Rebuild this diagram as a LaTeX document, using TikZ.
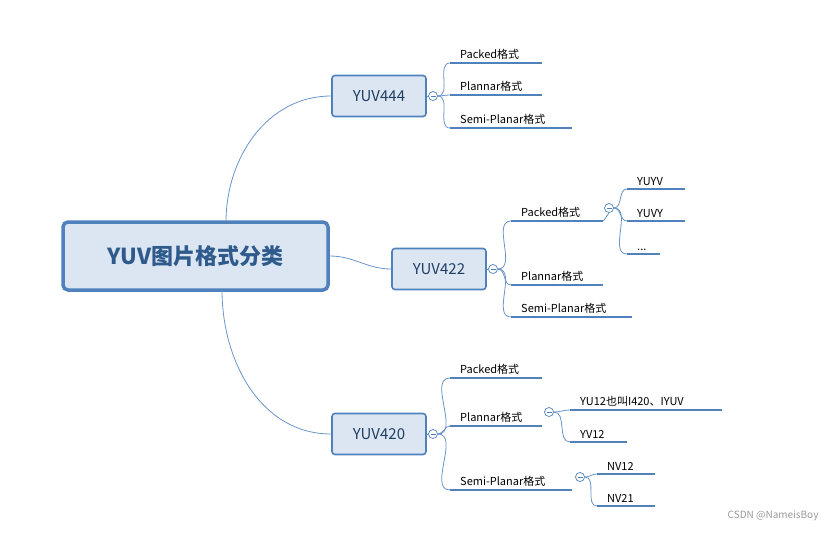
\documentclass[tikz,border=0pt]{standalone}
\usepackage{fontspec}
\setmainfont{Noto Sans CJK SC}
\definecolor{ln}{HTML}{4F81BD}
\definecolor{bfill}{HTML}{DCE6F2}
\definecolor{rtxt}{HTML}{2E5A8C}
\begin{document}
\begin{tikzpicture}[x=1pt,y=-1pt,
  con/.style={draw=ln!85,line width=0.8},
  ul/.style={draw=ln,line width=2.2},
  box/.style={draw=ln,line width=1.6,fill=bfill,rounded corners=3,minimum width=94,minimum height=41,font=\fontsize{15}{18}\selectfont,text=rtxt!70!black},
  root/.style={draw=ln,line width=3.5,fill=bfill,rounded corners=5,minimum width=265,minimum height=68,font=\bfseries\fontsize{22}{26}\selectfont,text=rtxt},
  leaf/.style={anchor=south west,inner xsep=10,inner ysep=3,align=left,font=\fontsize{11}{13}\selectfont},
  col/.style={circle,draw=ln,line width=0.7,fill=white,minimum size=9,inner sep=0,
    path picture={\draw[ln,line width=0.7] ([xshift=-2.5]path picture bounding box.center)--([xshift=2.5]path picture bounding box.center);}}]
\useasboundingbox (0,0) rectangle (836,533);
\newcommand\leaf[5]{\node[leaf,minimum width=#4,text width=#4-20] (#1) at (#2,#3) {#5};\draw[ul] (#1.south west)--(#1.south east);}
\node[root] (r) at (195.5,256) {YUV图片格式分类};
\node[box] (a) at (379,96) {YUV444};
\node[box] (b) at (439,269) {YUV422};
\node[box] (c) at (379,434) {YUV420};
\draw[con] (226,222) to[out=90,in=180] (a.west);
\draw[con] (r.east) to[out=0,in=180] (b.west);
\draw[con] (222,290) to[out=-90,in=180] (c.west);
\node[col] (ca) at (433,96) {};
\node[col] (cb) at (493,269) {};
\node[col] (cc) at (433,434) {};
\draw[con] (a.east)--(ca.west); \draw[con] (b.east)--(cb.west); \draw[con] (c.east)--(cc.west);
% 444
\leaf{a1}{450}{63}{92}{Packed格式}
\leaf{a2}{450}{95}{92}{Plannar格式}
\leaf{a3}{450}{128}{122}{Semi-Planar格式}
\foreach \n in {a1,a2,a3} \draw[con] (ca.east) to[out=0,in=180] (\n.south west);
% 422
\leaf{b1}{511}{221}{92}{Packed格式}
\leaf{b2}{511}{285}{92}{Plannar格式}
\leaf{b3}{511}{317}{121}{Semi-Planar格式}
\foreach \n in {b1,b2,b3} \draw[con] (cb.east) to[out=0,in=180] (\n.south west);
\node[col] (cb1) at (609,208) {};
\draw[con] (b1.south east)--(cb1.south);
\leaf{b11}{627}{189}{58}{YUYV}
\leaf{b12}{627}{221}{58}{YUVY}
\leaf{b13}{627}{254}{33}{...}
\foreach \n in {b11,b12,b13} \draw[con] (cb1.east) to[out=0,in=180] (\n.south west);
% 420
\leaf{c1}{450}{378}{92}{Packed格式}
\leaf{c2}{450}{426}{92}{Plannar格式}
\leaf{c3}{450}{490}{122}{Semi-Planar格式}
\foreach \n in {c1,c2,c3} \draw[con] (cc.east) to[out=0,in=180] (\n.south west);
\node[col] (cc2) at (549,412) {};
\node[col] (cc3) at (580,477) {};
\leaf{c21}{570}{410}{152}{YU12也叫I420、IYUV}
\leaf{c22}{570}{442}{57}{YV12}
\foreach \n in {c21,c22} \draw[con] (cc2.east) to[out=0,in=180] (\n.south west);
\leaf{c31}{597}{474}{58}{NV12}
\leaf{c32}{597}{506}{58}{NV21}
\foreach \n in {c31,c32} \draw[con] (cc3.east) to[out=0,in=180] (\n.south west);
\node[anchor=east,text=gray!80,font=\fontsize{10}{12}\selectfont] (w) at (822,516) {CSDN @NameisBoy};
\end{tikzpicture}
\end{document}
